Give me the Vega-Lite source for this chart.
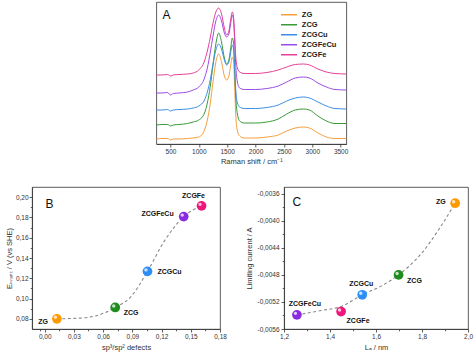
{
  "$schema": "https://vega.github.io/schema/vega-lite/v6.json",
  "padding": {"left": 4, "top": 1, "right": 3, "bottom": 2},
  "background": "white",
  "resolve": {"scale": {"color": "independent"}, "legend": {"color": "independent"}},
  "config": {
    "font": "Liberation Sans",
    "view": {"stroke": "#333", "strokeWidth": 0.8},
    "axis": {"grid": false, "domainColor": "#333", "domainWidth": 0.8, "tickColor": "#333", "tickWidth": 0.8, "labelFontSize": 6.5, "labelColor": "#333", "titleFontSize": 7.5, "titleFontWeight": "normal", "titleColor": "#333", "tickSize": 3, "labelPadding": 1, "labelFlush": false, "labelOverlap": false, "labelBound": false},
    "text": {"font": "Liberation Sans"}
  },
  "datasets": {
    "raman": [
      {"shift": 250, "ZG": 5, "ZCG": 19, "ZCGCu": 34, "ZCGFeCu": 51, "ZCGFe": 69},
      {"shift": 350, "ZG": 5.5, "ZCG": 19.5, "ZCGCu": 34, "ZCGFeCu": 51, "ZCGFe": 69},
      {"shift": 450, "ZG": 5.5, "ZCG": 19.5, "ZCGCu": 34.5, "ZCGFeCu": 51.5, "ZCGFe": 69.5},
      {"shift": 500, "ZG": 4, "ZCG": 18, "ZCGCu": 33, "ZCGFeCu": 49, "ZCGFe": 68},
      {"shift": 550, "ZG": 5, "ZCG": 19, "ZCGCu": 34, "ZCGFeCu": 50.5, "ZCGFe": 69},
      {"shift": 650, "ZG": 5, "ZCG": 19.5, "ZCGCu": 34.5, "ZCGFeCu": 51, "ZCGFe": 69.5},
      {"shift": 800, "ZG": 5.5, "ZCG": 20.5, "ZCGCu": 35, "ZCGFeCu": 52, "ZCGFe": 70},
      {"shift": 900, "ZG": 6, "ZCG": 22, "ZCGCu": 36, "ZCGFeCu": 54, "ZCGFe": 71},
      {"shift": 1000, "ZG": 7, "ZCG": 24, "ZCGCu": 38, "ZCGFeCu": 57, "ZCGFe": 74},
      {"shift": 1100, "ZG": 14, "ZCG": 31, "ZCGCu": 44, "ZCGFeCu": 66, "ZCGFe": 83},
      {"shift": 1150, "ZG": 24, "ZCG": 41, "ZCGCu": 52, "ZCGFeCu": 76, "ZCGFe": 93},
      {"shift": 1200, "ZG": 40, "ZCG": 57, "ZCGCu": 64, "ZCGFeCu": 91, "ZCGFe": 106},
      {"shift": 1250, "ZG": 62, "ZCG": 79, "ZCGCu": 80, "ZCGFeCu": 108, "ZCGFe": 121},
      {"shift": 1300, "ZG": 82, "ZCG": 100, "ZCGCu": 94, "ZCGFeCu": 123, "ZCGFe": 132},
      {"shift": 1350, "ZG": 90, "ZCG": 111, "ZCGCu": 100, "ZCGFeCu": 129, "ZCGFe": 136},
      {"shift": 1400, "ZG": 82, "ZCG": 102, "ZCGCu": 95, "ZCGFeCu": 123, "ZCGFe": 130},
      {"shift": 1450, "ZG": 68, "ZCG": 86, "ZCGCu": 84, "ZCGFeCu": 111, "ZCGFe": 116},
      {"shift": 1490, "ZG": 64, "ZCG": 80, "ZCGCu": 79, "ZCGFeCu": 107, "ZCGFe": 109},
      {"shift": 1530, "ZG": 68, "ZCG": 84, "ZCGCu": 82, "ZCGFeCu": 110, "ZCGFe": 113},
      {"shift": 1560, "ZG": 78, "ZCG": 95, "ZCGCu": 91, "ZCGFeCu": 120, "ZCGFe": 124},
      {"shift": 1590, "ZG": 87, "ZCG": 106, "ZCGCu": 99, "ZCGFeCu": 129, "ZCGFe": 132},
      {"shift": 1610, "ZG": 84, "ZCG": 102, "ZCGCu": 96, "ZCGFeCu": 125, "ZCGFe": 128},
      {"shift": 1630, "ZG": 60, "ZCG": 78, "ZCGCu": 78, "ZCGFeCu": 105, "ZCGFe": 110},
      {"shift": 1650, "ZG": 30, "ZCG": 48, "ZCGCu": 55, "ZCGFeCu": 80, "ZCGFe": 88},
      {"shift": 1680, "ZG": 13, "ZCG": 30, "ZCGCu": 41, "ZCGFeCu": 62, "ZCGFe": 76},
      {"shift": 1720, "ZG": 8, "ZCG": 23, "ZCGCu": 37, "ZCGFeCu": 56, "ZCGFe": 72},
      {"shift": 1800, "ZG": 6, "ZCG": 21, "ZCGCu": 35.5, "ZCGFeCu": 54.5, "ZCGFe": 70.5},
      {"shift": 2000, "ZG": 6, "ZCG": 21, "ZCGCu": 35.5, "ZCGFeCu": 54.5, "ZCGFe": 70.5},
      {"shift": 2200, "ZG": 7, "ZCG": 22, "ZCGCu": 36.5, "ZCGFeCu": 55.5, "ZCGFe": 71.5},
      {"shift": 2400, "ZG": 9, "ZCG": 25, "ZCGCu": 39, "ZCGFeCu": 58, "ZCGFe": 74},
      {"shift": 2550, "ZG": 13, "ZCG": 30, "ZCGCu": 43, "ZCGFeCu": 62, "ZCGFe": 77},
      {"shift": 2700, "ZG": 16, "ZCG": 34, "ZCGCu": 46, "ZCGFeCu": 66, "ZCGFe": 79.5},
      {"shift": 2850, "ZG": 17, "ZCG": 35, "ZCGCu": 47, "ZCGFeCu": 67, "ZCGFe": 80},
      {"shift": 2950, "ZG": 16, "ZCG": 34, "ZCGCu": 46, "ZCGFeCu": 66, "ZCGFe": 79},
      {"shift": 3100, "ZG": 11, "ZCG": 28, "ZCGCu": 42, "ZCGFeCu": 61, "ZCGFe": 75},
      {"shift": 3250, "ZG": 7, "ZCG": 23, "ZCGCu": 38, "ZCGFeCu": 57, "ZCGFe": 72},
      {"shift": 3400, "ZG": 5.5, "ZCG": 20.5, "ZCGCu": 35.5, "ZCGFeCu": 54.5, "ZCGFe": 70.5},
      {"shift": 3600, "ZG": 5.5, "ZCG": 20.5, "ZCGCu": 35, "ZCGFeCu": 54, "ZCGFe": 70}
    ],
    "pointsB": [
      {"sample": "ZG", "x": 0.0125, "y": 0.0800},
      {"sample": "ZCG", "x": 0.0724, "y": 0.0912},
      {"sample": "ZCGCu", "x": 0.1055, "y": 0.1268},
      {"sample": "ZCGFeCu", "x": 0.1427, "y": 0.1808},
      {"sample": "ZCGFe", "x": 0.161, "y": 0.1914}
    ],
    "curveB": [
      {"x": 0.0125, "y": 0.0800},
      {"x": 0.025, "y": 0.0803},
      {"x": 0.0447, "y": 0.0815},
      {"x": 0.0616, "y": 0.0860},
      {"x": 0.0724, "y": 0.0912},
      {"x": 0.0886, "y": 0.1020},
      {"x": 0.1055, "y": 0.1268},
      {"x": 0.1224, "y": 0.1560},
      {"x": 0.1427, "y": 0.1808},
      {"x": 0.161, "y": 0.1914}
    ],
    "pointsC": [
      {"sample": "ZG", "x": 1.944, "y": -0.00374},
      {"sample": "ZCG", "x": 1.698, "y": -0.0048},
      {"sample": "ZCGCu", "x": 1.54, "y": -0.005094},
      {"sample": "ZCGFe", "x": 1.448, "y": -0.005342},
      {"sample": "ZCGFeCu", "x": 1.256, "y": -0.005391}
    ],
    "curveC": [
      {"x": 1.256, "y": -0.005391},
      {"x": 1.361, "y": -0.005327},
      {"x": 1.448, "y": -0.005268},
      {"x": 1.54, "y": -0.005094},
      {"x": 1.628, "y": -0.004955},
      {"x": 1.698, "y": -0.0048},
      {"x": 1.797, "y": -0.004483},
      {"x": 1.881, "y": -0.004086},
      {"x": 1.944, "y": -0.003739}
    ]
  },
  "center": true,
  "spacing": 20,
  "vconcat": [
    {
      "width": 190,
      "height": 142,
      "resolve": {"axis": {"x": "independent"}},
      "layer": [
        {
          "data": {"name": "raman"},
          "transform": [{"fold": ["ZG", "ZCG", "ZCGCu", "ZCGFeCu", "ZCGFe"], "as": ["sample", "intensity"]}],
          "mark": {"type": "line", "interpolate": "monotone", "strokeWidth": 1},
          "encoding": {
            "x": {"field": "shift", "type": "quantitative", "scale": {"domain": [250, 3600], "nice": false, "zero": false},
                  "axis": {"orient": "bottom", "values": [500, 1500, 2500, 3500], "format": "d", "title": "Raman shift / cm⁻¹", "titlePadding": 3}},
            "y": {"field": "intensity", "type": "quantitative", "scale": {"domain": [0, 142], "nice": false},
                  "axis": {"labels": false, "ticks": false, "title": "Intensity / a.u.", "titlePadding": 11}},
            "color": {"field": "sample", "type": "nominal",
                      "scale": {"domain": ["ZG", "ZCG", "ZCGCu", "ZCGFeCu", "ZCGFe"], "range": ["#f5a040", "#3a9a3a", "#3d8fe6", "#9b4de6", "#e6409a"]},
                      "legend": {"orient": "top-right", "offset": 9, "title": null, "symbolType": "M-3.6,0H3.6", "symbolSize": 20, "symbolStrokeWidth": 1.5, "labelFontSize": 7.5, "labelFontWeight": "bold", "labelColor": "#222", "labelOffset": 9, "rowPadding": 1}}
          }
        },
        {
          "data": {"values": [{"label": "A", "shift": 430, "intensity": 129}]},
          "mark": {"type": "text", "fontSize": 12, "align": "center", "baseline": "middle", "color": "#111"},
          "encoding": {
            "x": {"field": "shift", "type": "quantitative", "axis": {"orient": "bottom", "values": [1000, 2000, 3000], "format": "d", "title": null, "domain": false}},
            "y": {"field": "intensity", "type": "quantitative", "axis": null},
            "text": {"field": "label"}
          }
        }
      ]
    },
    {
      "spacing": 18,
      "hconcat": [
        {
          "width": 188,
          "height": 142,
          "resolve": {"axis": {"x": "independent", "y": "independent"}},
          "layer": [
            {
              "data": {"name": "curveB"},
              "mark": {"type": "line", "interpolate": "monotone", "strokeDash": [3, 2.5], "strokeWidth": 1.1, "color": "#888"},
              "encoding": {
                "x": {"field": "x", "type": "quantitative", "scale": {"domain": [-0.013, 0.18], "nice": false, "zero": false},
                      "axis": {"orient": "bottom", "values": [0, 0.06, 0.12, 0.18], "labelExpr": "replace(format(datum.value, '.2f'), '.', ',')", "title": "sp³/sp² defects", "titlePadding": 4}},
                "y": {"field": "y", "type": "quantitative", "scale": {"domain": [0.07, 0.21], "nice": false, "zero": false},
                      "axis": {"orient": "left", "values": [0.08, 0.12, 0.16, 0.20], "labelExpr": "replace(format(datum.value, '.2f'), '.', ',')", "title": "Eₒₙₛₑₜ / V (vs SHE)", "titlePadding": 2}}
              }
            },
            {
              "data": {"name": "pointsB"},
              "mark": {"type": "circle", "size": 95, "opacity": 1},
              "encoding": {
                "x": {"field": "x", "type": "quantitative", "axis": {"orient": "bottom", "values": [0.03, 0.09, 0.15], "labelExpr": "replace(format(datum.value, '.2f'), '.', ',')", "title": null, "domain": false}},
                "y": {"field": "y", "type": "quantitative", "axis": {"orient": "left", "values": [0.10, 0.14, 0.18], "labelExpr": "replace(format(datum.value, '.2f'), '.', ',')", "title": null, "domain": false}},
                "color": {"field": "sample", "type": "nominal", "scale": {"domain": ["ZG", "ZCG", "ZCGCu", "ZCGFeCu", "ZCGFe"], "range": ["#ff9900", "#1e8c1e", "#2d8ef5", "#8a2be2", "#f0157a"]}, "legend": null}
              }
            },
            {
              "data": {"name": "pointsB"},
              "mark": {"type": "circle", "size": 12, "color": "white", "opacity": 0.75, "xOffset": -1.5, "yOffset": -1.5},
              "encoding": {
                "x": {"field": "x", "type": "quantitative", "axis": {"orient": "bottom", "values": [-0.005, 0.015, 0.045, 0.075, 0.105, 0.135, 0.165], "labels": false, "tickSize": 1.8, "title": null, "domain": false}},
                "y": {"field": "y", "type": "quantitative", "axis": {"orient": "left", "values": [0.09, 0.11, 0.13, 0.15, 0.17, 0.19], "labels": false, "tickSize": 1.8, "title": null, "domain": false}}
              }
            },
            {
              "data": {"name": "pointsB"},
              "transform": [{"filter": "datum.sample == 'ZG'"}],
              "mark": {"type": "text", "align": "right", "baseline": "middle", "dx": -9, "dy": 3, "fontSize": 7, "fontWeight": "bold", "color": "#111"},
              "encoding": {"x": {"field": "x", "type": "quantitative", "axis": null}, "y": {"field": "y", "type": "quantitative", "axis": null}, "text": {"field": "sample"}}
            },
            {
              "data": {"name": "pointsB"},
              "transform": [{"filter": "datum.sample == 'ZCGFeCu'"}],
              "mark": {"type": "text", "align": "right", "baseline": "middle", "dx": -10, "dy": -3, "fontSize": 7, "fontWeight": "bold", "color": "#111"},
              "encoding": {"x": {"field": "x", "type": "quantitative", "axis": null}, "y": {"field": "y", "type": "quantitative", "axis": null}, "text": {"field": "sample"}}
            },
            {
              "data": {"name": "pointsB"},
              "transform": [{"filter": "datum.sample == 'ZCG'"}],
              "mark": {"type": "text", "align": "left", "baseline": "middle", "dx": 8.5, "dy": 6, "fontSize": 7, "fontWeight": "bold", "color": "#111"},
              "encoding": {"x": {"field": "x", "type": "quantitative", "axis": null}, "y": {"field": "y", "type": "quantitative", "axis": null}, "text": {"field": "sample"}}
            },
            {
              "data": {"name": "pointsB"},
              "transform": [{"filter": "datum.sample == 'ZCGCu'"}],
              "mark": {"type": "text", "align": "left", "baseline": "middle", "dx": 10, "dy": 1, "fontSize": 7, "fontWeight": "bold", "color": "#111"},
              "encoding": {"x": {"field": "x", "type": "quantitative", "axis": null}, "y": {"field": "y", "type": "quantitative", "axis": null}, "text": {"field": "sample"}}
            },
            {
              "data": {"name": "pointsB"},
              "transform": [{"filter": "datum.sample == 'ZCGFe'"}],
              "mark": {"type": "text", "align": "center", "baseline": "middle", "dx": -8, "dy": -10, "fontSize": 7, "fontWeight": "bold", "color": "#111"},
              "encoding": {"x": {"field": "x", "type": "quantitative", "axis": null}, "y": {"field": "y", "type": "quantitative", "axis": null}, "text": {"field": "sample"}}
            },
            {
              "data": {"values": [{"label": "B", "x": 0.005, "y": 0.1934}]},
              "mark": {"type": "text", "fontSize": 12, "align": "center", "baseline": "middle", "color": "#111"},
              "encoding": {"x": {"field": "x", "type": "quantitative", "axis": null}, "y": {"field": "y", "type": "quantitative", "axis": null}, "text": {"field": "label"}}
            }
          ]
        },
        {
          "width": 184,
          "height": 142,
          "resolve": {"axis": {"x": "independent", "y": "independent"}},
          "layer": [
            {
              "data": {"name": "curveC"},
              "mark": {"type": "line", "interpolate": "monotone", "strokeDash": [3, 2.5], "strokeWidth": 1.1, "color": "#888"},
              "encoding": {
                "x": {"field": "x", "type": "quantitative", "scale": {"domain": [1.2, 2.0], "nice": false, "zero": false},
                      "axis": {"orient": "bottom", "values": [1.2, 1.4, 1.6, 1.8, 2.0], "labelExpr": "replace(format(datum.value, '.1f'), '.', ',')", "title": "Lₐ / nm", "titlePadding": 4}},
                "y": {"field": "y", "type": "quantitative", "scale": {"domain": [-0.0056, -0.0035], "nice": false, "zero": false},
                      "axis": {"orient": "left", "values": [-0.0056, -0.0048, -0.0040], "labelExpr": "replace(replace(format(datum.value, '.4f'), '.', ','), '−', '-')", "title": "Limiting current / A", "titlePadding": 3, "labelPadding": 2}}
              }
            },
            {
              "data": {"name": "pointsC"},
              "mark": {"type": "circle", "size": 95, "opacity": 1},
              "encoding": {
                "x": {"field": "x", "type": "quantitative", "axis": {"orient": "bottom", "values": [1.3, 1.5, 1.7, 1.9], "labels": false, "tickSize": 1.8, "title": null, "domain": false}},
                "y": {"field": "y", "type": "quantitative", "axis": {"orient": "left", "values": [-0.0052, -0.0044, -0.0036], "labelExpr": "replace(replace(format(datum.value, '.4f'), '.', ','), '−', '-')", "title": null, "domain": false, "labelPadding": 2}},
                "color": {"field": "sample", "type": "nominal", "scale": {"domain": ["ZG", "ZCG", "ZCGCu", "ZCGFeCu", "ZCGFe"], "range": ["#ff9900", "#1e8c1e", "#2d8ef5", "#8a2be2", "#f0157a"]}, "legend": null}
              }
            },
            {
              "data": {"name": "pointsC"},
              "mark": {"type": "circle", "size": 12, "color": "white", "opacity": 0.75, "xOffset": -1.5, "yOffset": -1.5},
              "encoding": {
                "x": {"field": "x", "type": "quantitative", "axis": null},
                "y": {"field": "y", "type": "quantitative", "axis": {"orient": "left", "values": [-0.0054, -0.0050, -0.0046, -0.0042, -0.0038], "labels": false, "tickSize": 1.8, "title": null, "domain": false}}
              }
            },
            {
              "data": {"name": "pointsC"},
              "transform": [{"filter": "datum.sample == 'ZG'"}],
              "mark": {"type": "text", "align": "right", "baseline": "middle", "dx": -9.5, "dy": -1, "fontSize": 7, "fontWeight": "bold", "color": "#111"},
              "encoding": {"x": {"field": "x", "type": "quantitative", "axis": null}, "y": {"field": "y", "type": "quantitative", "axis": null}, "text": {"field": "sample"}}
            },
            {
              "data": {"name": "pointsC"},
              "transform": [{"filter": "datum.sample == 'ZCG'"}],
              "mark": {"type": "text", "align": "left", "baseline": "middle", "dx": 8.5, "dy": 6, "fontSize": 7, "fontWeight": "bold", "color": "#111"},
              "encoding": {"x": {"field": "x", "type": "quantitative", "axis": null}, "y": {"field": "y", "type": "quantitative", "axis": null}, "text": {"field": "sample"}}
            },
            {
              "data": {"name": "pointsC"},
              "transform": [{"filter": "datum.sample == 'ZCGCu'"}],
              "mark": {"type": "text", "align": "center", "baseline": "middle", "dx": -1, "dy": -11, "fontSize": 7, "fontWeight": "bold", "color": "#111"},
              "encoding": {"x": {"field": "x", "type": "quantitative", "axis": null}, "y": {"field": "y", "type": "quantitative", "axis": null}, "text": {"field": "sample"}}
            },
            {
              "data": {"name": "pointsC"},
              "transform": [{"filter": "datum.sample == 'ZCGFeCu'"}],
              "mark": {"type": "text", "align": "center", "baseline": "middle", "dx": 8, "dy": -11, "fontSize": 7, "fontWeight": "bold", "color": "#111"},
              "encoding": {"x": {"field": "x", "type": "quantitative", "axis": null}, "y": {"field": "y", "type": "quantitative", "axis": null}, "text": {"field": "sample"}}
            },
            {
              "data": {"name": "pointsC"},
              "transform": [{"filter": "datum.sample == 'ZCGFe'"}],
              "mark": {"type": "text", "align": "left", "baseline": "middle", "dx": 5.5, "dy": 9, "fontSize": 7, "fontWeight": "bold", "color": "#111"},
              "encoding": {"x": {"field": "x", "type": "quantitative", "axis": null}, "y": {"field": "y", "type": "quantitative", "axis": null}, "text": {"field": "sample"}}
            },
            {
              "data": {"values": [{"label": "C", "x": 1.256, "y": -0.003724}]},
              "mark": {"type": "text", "fontSize": 12, "align": "center", "baseline": "middle", "color": "#111"},
              "encoding": {"x": {"field": "x", "type": "quantitative", "axis": null}, "y": {"field": "y", "type": "quantitative", "axis": null}, "text": {"field": "label"}}
            }
          ]
        }
      ]
    }
  ]
}
